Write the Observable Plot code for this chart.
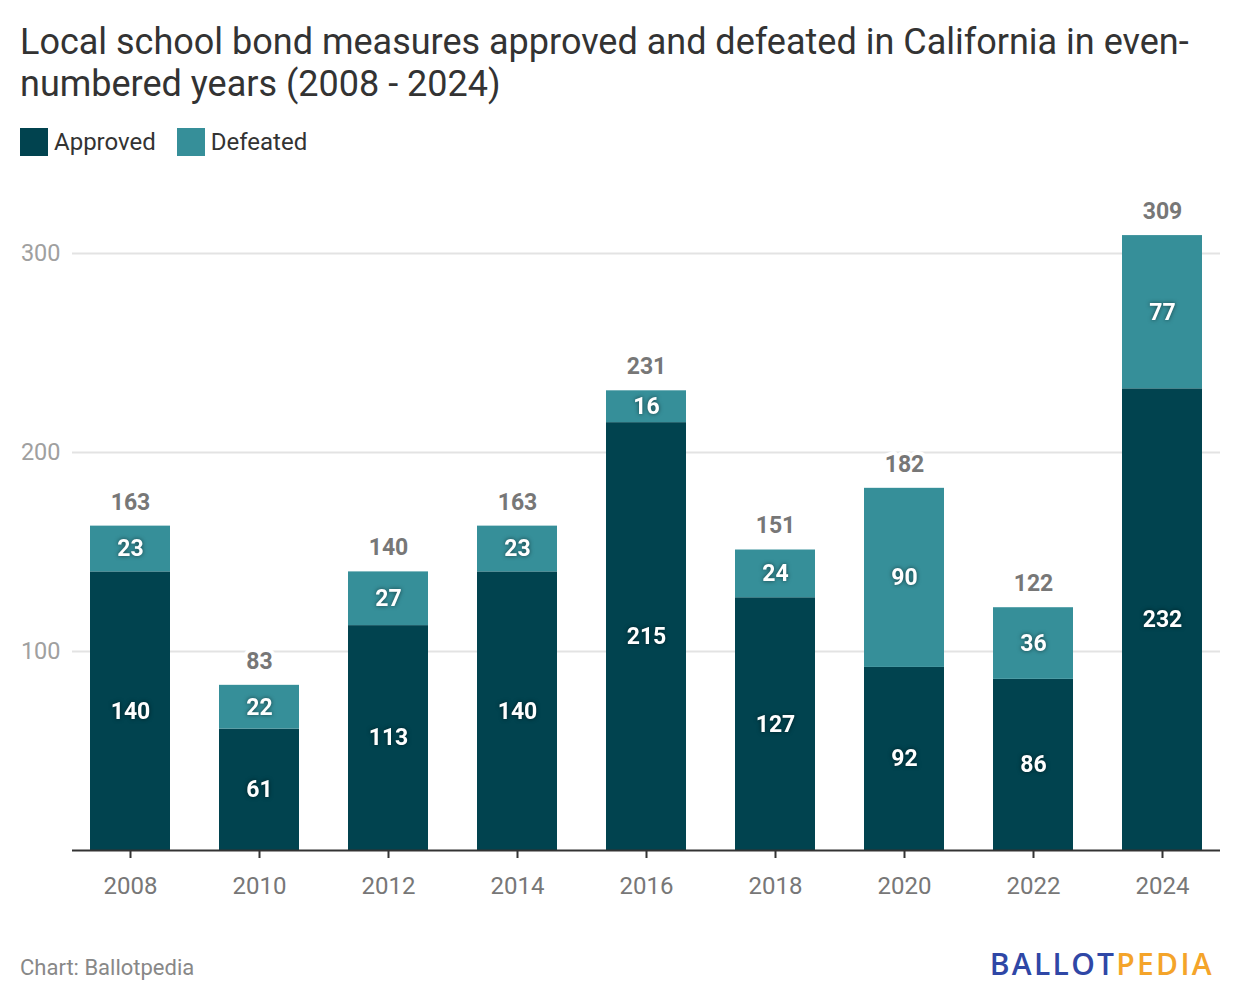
<!DOCTYPE html>
<html>
<head>
<meta charset="utf-8">
<script src="https://cdn.jsdelivr.net/npm/d3@7"></script>
<script src="https://cdn.jsdelivr.net/npm/@observablehq/plot@0.6"></script>
<style>
  body { margin: 0; background: #fff; font-family: Roboto, "Noto Sans", sans-serif; }
  #wrap { position: relative; width: 1240px; height: 1004px; overflow: hidden; }
  h1 { margin: 21px 0 0 20px; width: 1200px; font-size: 36px; line-height: 42px; font-weight: 400; color: #333; }
  .legend { display: flex; gap: 21px; margin: 23px 0 0 20px; height: 28px; align-items: center; font-size: 24px; color: #333; }
  .legend span { display: inline-flex; align-items: center; gap: 6px; }
  .legend i { display: inline-block; width: 28px; height: 28px; }
  #chart { position: absolute; left: 0; top: 170px; }
  .caption { position: absolute; left: 20px; top: 955px; font-size: 22px; color: #888; }
  .logo { position: absolute; right: 26px; top: 943px; font-size: 30px; font-weight: 600; letter-spacing: 2.3px; font-family: "Open Sans", Roboto, sans-serif; }
  .logo .b { color: #2f47a6; } .logo .p { color: #f4a42a; }
  g[fill="white"] text { filter: drop-shadow(0 0 2px rgba(0,0,0,0.55)); }
</style>
</head>
<body>
<div id="wrap">
  <h1>Local school bond measures approved and defeated in California in even-numbered years (2008 - 2024)</h1>
  <div class="legend">
    <span><i style="background:#01434f"></i>Approved</span>
    <span><i style="background:#368f99"></i>Defeated</span>
  </div>
  <div id="chart"></div>
  <div class="caption">Chart: Ballotpedia</div>
  <div class="logo"><span class="b">BALLOT</span><span class="p">PEDIA</span></div>
</div>
<script>
// Local school bond measures by election year
const years = ["2008", "2010", "2012", "2014", "2016", "2018", "2020", "2022", "2024"];
const approved = [140, 61, 113, 140, 215, 127, 92, 86, 232];
const defeated = [23, 22, 27, 23, 16, 24, 90, 36, 77];
const seriesNames = ["Approved", "Defeated"];
const seriesColors = ["#01434f", "#368f99"];
const yTicks = [100, 200, 300];

const rows = years.flatMap((year, i) => [
  {year, status: "Approved", value: approved[i]},
  {year, status: "Defeated", value: defeated[i]}
]);
const totals = years.map((year, i) => ({year, total: approved[i] + defeated[i]}));

const chart = Plot.plot({
  width: 1240,
  height: 740,
  marginLeft: 72,
  marginRight: 20,
  marginTop: 83,
  marginBottom: 60,
  style: {fontFamily: "Roboto, sans-serif", fontSize: "22px", background: "transparent"},
  x: {domain: years, paddingInner: 0.38, paddingOuter: 0.13, label: null},
  y: {domain: [0, 300], label: null},
  color: {domain: seriesNames, range: seriesColors},
  marks: [
    Plot.gridY(yTicks, {stroke: "#e3e3e3", strokeOpacity: 1, strokeWidth: 2}),
    Plot.axisY(yTicks, {tickSize: 0, tickPadding: 12, fill: "#a0a0a0", label: null, fontSize: 23.5}),
    Plot.barY(rows, {x: "year", y: "value", fill: "status", order: seriesNames}),
    Plot.text(rows, Plot.stackY({x: "year", y: "value", z: "status", order: seriesNames, text: d => String(d.value), fill: "white", fontWeight: 700, fontSize: 23})),
    Plot.text(totals, {x: "year", y: "total", text: d => String(d.total), dy: -24, fill: "#777", fontWeight: 700, fontSize: 23, stroke: "white", strokeWidth: 8}),
    Plot.ruleY([0], {stroke: "#333", strokeWidth: 2}),
    Plot.axisX({tickSize: 8, tickPadding: 18, stroke: "#333", strokeWidth: 2, fill: "#777", fontSize: 24, label: null})
  ]
});
document.getElementById("chart").appendChild(chart);
</script>
</body>
</html>
